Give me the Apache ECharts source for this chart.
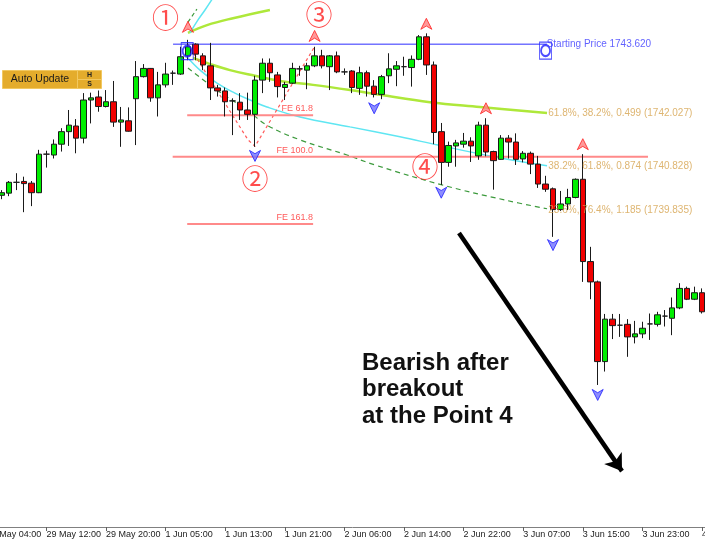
<!DOCTYPE html>
<html><head><meta charset="utf-8">
<script src="https://cdn.jsdelivr.net/npm/echarts@6/dist/echarts.min.js"></script>
<style>html,body{margin:0;padding:0;background:#fff}#c{width:705px;height:546px}</style>
</head><body><div id="c"></div>
<script>
// ---------- data ----------
const firstBar = -3, lastBar = 94;               // bar index range of the category axis
const tickBars   = [-2, 6, 14, 22, 30, 38, 46, 54, 62, 70, 78, 86, 94];
const tickLabels = ['29 May 04:00','29 May 12:00','29 May 20:00','1 Jun 05:00','1 Jun 13:00','1 Jun 21:00',
                    '2 Jun 06:00','2 Jun 14:00','2 Jun 22:00','3 Jun 07:00','3 Jun 15:00','3 Jun 23:00','4 Jun 08:00'];
// H1 candles, bars 0..94 : [open, close, low, high]
const ohlc = [
[1740.13,1740.19,1740.04,1740.25],[1740.18,1740.43,1740.11,1740.46],[1740.43,1740.43,1740.25,1740.64],
[1740.45,1740.40,1739.74,1740.56],[1740.41,1740.19,1739.88,1740.46],[1740.19,1741.08,1740.18,1741.18],
[1741.08,1741.08,1740.77,1741.16],[1741.06,1741.31,1740.98,1741.42],[1741.31,1741.60,1741.14,1741.68],
[1741.60,1741.75,1741.27,1742.10],[1741.73,1741.45,1741.10,1741.89],[1741.45,1742.33,1741.33,1742.49],
[1742.33,1742.38,1741.79,1742.50],[1742.40,1742.18,1742.06,1742.55],[1742.18,1742.29,1742.16,1742.56],
[1742.29,1741.82,1741.71,1742.77],[1741.82,1741.87,1741.25,1742.17],[1741.85,1741.61,1741.60,1742.16],
[1742.36,1742.87,1741.29,1743.23],[1742.87,1743.06,1742.85,1743.16],[1743.06,1742.38,1742.29,1743.07],
[1742.38,1742.68,1741.95,1742.98],[1742.68,1742.93,1742.62,1743.19],[1742.95,1742.95,1742.68,1743.01],
[1742.93,1743.33,1742.91,1743.56],[1743.35,1743.56,1743.25,1743.72],[1743.62,1743.39,1743.25,1743.64],
[1743.35,1743.14,1743.02,1743.41],[1743.12,1742.61,1742.33,1743.65],[1742.61,1742.54,1742.41,1742.68],
[1742.54,1742.29,1741.95,1742.62],[1742.31,1742.31,1741.52,1742.37],[1742.28,1742.10,1741.87,1742.49],
[1742.10,1742.00,1741.87,1742.50],[1742.00,1742.79,1741.25,1742.89],[1742.79,1743.18,1742.49,1743.29],
[1743.18,1742.96,1742.75,1743.29],[1742.91,1742.64,1742.39,1742.98],[1742.62,1742.69,1742.33,1742.75],
[1742.72,1743.06,1742.70,1743.19],[1743.05,1743.05,1742.89,1743.12],[1743.02,1743.12,1742.58,1743.19],
[1743.12,1743.35,1743.09,1743.56],[1743.35,1743.12,1743.06,1743.49],[1743.10,1743.35,1742.56,1743.37],
[1743.35,1742.98,1742.95,1743.45],[1742.98,1742.98,1742.91,1743.06],[1743.00,1742.62,1742.49,1743.02],
[1742.60,1742.96,1742.45,1743.10],[1742.96,1742.65,1742.41,1743.01],[1742.65,1742.46,1742.39,1742.79],
[1742.46,1742.87,1742.35,1742.91],[1742.89,1743.05,1742.72,1743.41],[1743.04,1743.12,1742.65,1743.23],
[1743.10,1743.10,1742.89,1743.33],[1743.08,1743.27,1742.64,1743.36],[1743.27,1743.79,1743.25,1743.83],
[1743.79,1743.14,1742.91,1743.87],[1743.14,1741.58,1741.31,1743.22],[1741.60,1740.89,1740.37,1741.80],
[1740.89,1741.28,1740.79,1741.37],[1741.27,1741.34,1740.79,1741.41],[1741.31,1741.38,1741.23,1741.57],
[1741.38,1741.27,1740.90,1741.47],[1741.04,1741.75,1740.95,1741.83],[1741.75,1741.13,1741.03,1741.91],
[1741.14,1740.93,1740.26,1741.16],[1740.96,1741.45,1740.95,1741.52],[1741.45,1741.36,1740.98,1741.52],
[1741.36,1740.96,1740.83,1741.56],[1740.97,1741.10,1740.89,1741.15],[1741.10,1740.85,1740.62,1741.14],
[1740.85,1740.39,1740.30,1741.04],[1740.39,1740.27,1740.21,1740.58],[1740.28,1739.80,1739.17,1740.31],
[1739.80,1739.93,1739.77,1740.23],[1739.93,1740.08,1739.79,1740.28],[1740.08,1740.50,1740.06,1740.52],
[1740.50,1738.60,1738.13,1741.08],[1738.60,1738.13,1737.73,1738.94],[1738.13,1736.29,1735.75,1738.16],
[1736.29,1737.27,1736.06,1737.39],[1737.27,1737.12,1736.81,1737.39],[1737.13,1737.13,1736.86,1737.39],
[1737.15,1736.86,1736.40,1737.27],[1736.86,1736.93,1736.71,1737.23],[1736.93,1737.06,1736.83,1737.21],
[1737.16,1737.16,1736.79,1737.40],[1737.15,1737.37,1737.10,1737.44],[1737.34,1737.34,1737.10,1737.48],
[1737.29,1737.53,1736.90,1737.77],[1737.53,1737.98,1737.50,1738.10],[1737.98,1737.73,1737.71,1738.02],
[1737.73,1737.88,1737.71,1738.02],[1737.88,1737.44,1737.40,1737.98]
];
// overlay curves: [bar position, price]
const greenCurve  = [[25.68,1743.30],[27.96,1743.16],[30.64,1743.02],[34.0,1742.89],[37.36,1742.77],[41.79,1742.68],
                     [46.75,1742.56],[50.78,1742.45],[57.49,1742.28],[64.2,1742.17],[73.2,1742.03]];
const greenUpper  = [[25.0,1743.88],[27.56,1744.06],[31.05,1744.22],[36.0,1744.41]];
const cyanCurve   = [[25.0,1743.30],[26.62,1743.02],[28.9,1742.72],[31.3,1742.49],[33.33,1742.33],[35.6,1742.17],
                     [40.04,1741.94],[46.75,1741.71],[53.46,1741.48],[58.56,1741.29],[65.5,1741.04],[73.2,1740.81]];
const cyanUpper   = [[25.27,1743.88],[26.35,1744.18],[27.29,1744.41],[28.4,1744.70]];
const dashCurve   = [[25.0,1743.07],[28.9,1742.56],[32.93,1742.10],[35.6,1741.75],[40.04,1741.41],[46.35,1741.06],
                     [50.1,1740.83],[59.1,1740.37],[67.56,1740.02],[73.2,1739.82]];
const dashUpper   = [[25.0,1744.13],[26.2,1744.43]];
const zigzag      = [[25.0,1743.62],[33.06,1741.41],[34.0,1741.26],[42.06,1743.58]];
const startLevel  = [[23.0,1743.62],[73.2,1743.62]];
const fe618       = [[24.9,1741.98],[41.8,1741.98]];
const fe1000      = [[22.95,1741.02],[86.75,1741.02]];
const fe1618      = [[24.9,1739.47],[41.8,1739.47]];
const upFractals  = [[25,1744.02],[42,1743.81],[57,1744.09],[65,1742.14],[78,1741.31]];
const downFractals= [[34,1741.04],[50,1742.14],[59,1740.19],[74,1738.98],[80,1735.52]];
const pointBoxes  = [[24.9,1743.46],[73.0,1743.47]];
const circledNums = [[22.0,1744.22,'①'],[34.0,1740.52,'②'],[42.6,1744.29,'③'],[56.82,1740.79,'④']];
const feLabels    = [[41.8,1742.14,'FE 61.8'],[41.8,1741.16,'FE 100.0'],[41.8,1739.62,'FE 161.8']];
const startLabel  = [[73.15,1743.62,'Starting Price 1743.620']];
const levelLabels = [[73.37,1742.02,'61.8%, 38.2%, 0.499 (1742.027)'],
                     [73.37,1740.80,'38.2%, 61.8%, 0.874 (1740.828)'],
                     [73.37,1739.79,'23.6%, 76.4%, 1.185 (1739.835)']];
const bigArrow    = [[61.38,1739.26],[83.26,1733.76]];
const yMin = 1732.47, yMax = 1744.64;

// ---------- chart ----------
const cats = [];
for (let b = firstBar; b <= lastBar; b++) cats.push(String(b));
const labelMap = {};
tickBars.forEach((b, k) => labelMap[b] = tickLabels[k]);
const isTick = (idx) => labelMap[idx + firstBar] !== undefined;

function lineS(data, color, width, type, smooth) {
  return {type:'line', xAxisIndex:1, yAxisIndex:0, data, showSymbol:false, symbol:'none', smooth: smooth ? 0.4 : false,
          silent:true, z:2, lineStyle:{color, width, type}};
}
function textS(points, label) {
  return {type:'scatter', xAxisIndex:1, yAxisIndex:0, symbolSize:0, silent:true, z:6,
          data: points.map(p => ({value:[p[0], p[1]], name:p[2]})),
          label: Object.assign({show:true, formatter:'{b}', position:[0,0], verticalAlign:'middle'}, label)};
}
const arrowPath = 'path://M5,0 L10,10 L5,7 L0,10 Z';

const chart = echarts.init(document.getElementById('c'), null, {renderer:'canvas'});
chart.setOption({
  animation:false,
  backgroundColor:'#ffffff',
  grid:{left:-24.375, right:-0.725, top:0, bottom:19, containLabel:false, outerBoundsMode:'none'},
  xAxis:[{
    type:'category', data:cats, boundaryGap:true,
    axisLine:{show:true, lineStyle:{color:'#808080', width:1}},
    axisTick:{show:true, alignWithLabel:true, interval:(i)=>isTick(i), length:4, lineStyle:{color:'#606060'}},
    axisLabel:{show:true, interval:(i)=>isTick(i), formatter:(v)=>labelMap[+v] || '', align:'left',
               margin:3, fontSize:9, color:'#222', fontFamily:'Liberation Sans'},
    splitLine:{show:false}
  },{
    type:'value', min:firstBar-0.5, max:lastBar+0.5, show:false
  }],
  yAxis:[{type:'value', min:yMin, max:yMax, show:false, splitLine:{show:false}}],
  series:[
    lineS(greenCurve, '#aee83a', 2.5, 'solid', true),
    lineS(greenUpper, '#aee83a', 2.5, 'solid', true),
    lineS(cyanCurve, '#5fe6f2', 1.5, 'solid', true),
    lineS(cyanUpper, '#5fe6f2', 1.5, 'solid', true),
    lineS(dashCurve, '#3c9a3c', 1.2, [5,4], true),
    lineS(dashUpper, '#3c9a3c', 1.2, [4,3], false),
    lineS(zigzag, '#ff5a5a', 1.2, [3,3], false),
    lineS(startLevel, '#2d2dff', 1, 'solid', false),
    lineS(fe618, '#ff8a8a', 2, 'solid', false),
    lineS(fe1000, '#ff8a8a', 2, 'solid', false),
    lineS(fe1618, '#ff8a8a', 2, 'solid', false),
    {
      type:'candlestick', xAxisIndex:0, yAxisIndex:0, barWidth:6, z:3, silent:true,
      data: ohlc.map((d,k)=>[k - firstBar, d[0], d[1], d[2], d[3]]),
      encode:{x:0, y:[1,2,3,4]},
      itemStyle:{color:'#00ee00', color0:'#f00000', borderColor:'#1a1a1a', borderColor0:'#1a1a1a',
                 borderColorDoji:'#1a1a1a', borderWidth:1}
    },
    {type:'scatter', xAxisIndex:1, yAxisIndex:0, symbol:'rect', symbolSize:[12,17], silent:true, z:4,
     data: pointBoxes, itemStyle:{color:'rgba(0,0,0,0)', borderColor:'#2020ff', borderWidth:1}},
    {type:'scatter', xAxisIndex:1, yAxisIndex:0, symbol:'circle', symbolSize:[9,11], silent:true, z:4,
     data: pointBoxes, itemStyle:{color:'rgba(0,0,0,0)', borderColor:'#2020ff', borderWidth:2}},
    {type:'scatter', xAxisIndex:1, yAxisIndex:0, symbol:arrowPath, symbolSize:[11,11], silent:true, z:5,
     data: upFractals, itemStyle:{color:'#ff8080', borderColor:'#ff2020', borderWidth:1}},
    {type:'scatter', xAxisIndex:1, yAxisIndex:0, symbol:arrowPath, symbolSize:[11,11], symbolRotate:180, silent:true, z:5,
     data: downFractals, itemStyle:{color:'#7070ff', borderColor:'#2020ff', borderWidth:1}},
    textS(circledNums, {align:'center', color:'#ff2020', fontSize:27, fontFamily:'"Noto Sans CJK JP"'}),
    textS(feLabels, {align:'right', color:'#ff3030', fontSize:9, fontFamily:'Liberation Sans'}),
    textS(startLabel, {align:'left', color:'#3a3aff', fontSize:10, fontFamily:'Liberation Sans'}),
    textS(levelLabels, {align:'left', color:'#d6a24e', fontSize:10, fontFamily:'Liberation Sans'}),
    {type:'line', xAxisIndex:1, yAxisIndex:0, data:[], silent:true, z:7,
     markLine:{silent:true, symbol:['none','arrow'], symbolSize:16, label:{show:false},
               itemStyle:{color:'#000'},
               lineStyle:{color:'#000', width:4.5, type:'solid'},
               data:[[{coord:bigArrow[0]},{coord:bigArrow[1]}]]}}
  ],
  graphic:[
    {type:'group', left:2, top:70, children:[
      {type:'rect', shape:{x:0, y:0, width:75, height:18}, style:{fill:'#e4ac2c', stroke:'#f2c860', lineWidth:1}},
      {type:'text', style:{text:'Auto Update', x:37.5, y:9, align:'center', verticalAlign:'middle',
        fontSize:10.5, fontFamily:'Liberation Sans', fill:'#1a1a1a'}},
      {type:'rect', shape:{x:75, y:0, width:24, height:9}, style:{fill:'#e4ac2c', stroke:'#f2c860', lineWidth:1}},
      {type:'rect', shape:{x:75, y:9, width:24, height:9}, style:{fill:'#e4ac2c', stroke:'#f2c860', lineWidth:1}},
      {type:'text', style:{text:'H', x:87, y:4.5, align:'center', verticalAlign:'middle', fontSize:7, fontWeight:'bold', fontFamily:'Liberation Sans', fill:'#222'}},
      {type:'text', style:{text:'S', x:87, y:13.5, align:'center', verticalAlign:'middle', fontSize:7, fontWeight:'bold', fontFamily:'Liberation Sans', fill:'#222'}}
    ]},
    {type:'text', left:362, top:350, z:10, style:{text:'Bearish after\nbreakout\nat the Point 4',
      fontSize:24, fontWeight:'bold', fontFamily:'Liberation Sans', fill:'#111', lineHeight:26.5}}
  ]
});
</script>
</body></html>
